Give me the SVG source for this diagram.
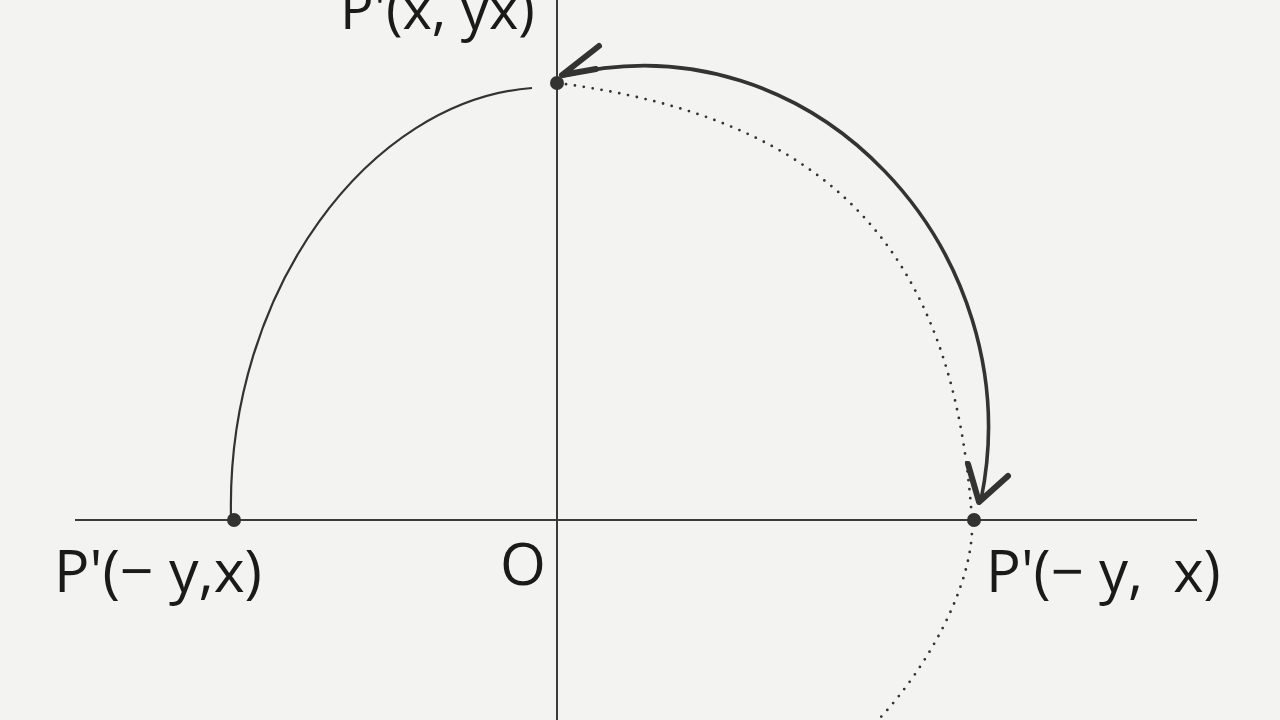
<svg xmlns="http://www.w3.org/2000/svg" width="1280" height="720" viewBox="0 0 1280 720">
<style>
.axis{stroke:#3a3a3a;stroke-width:2;fill:none}
.thin{stroke:#333;stroke-width:2.2;fill:none}
.thick{stroke:#333;stroke-width:3.6;fill:none;stroke-linecap:round}
.dot{stroke:#333;stroke-width:2.8;fill:none;stroke-dasharray:0 9;stroke-linecap:round}
.head{stroke:#333;stroke-width:6;fill:none;stroke-linecap:round;stroke-linejoin:round}
.pt{fill:#333}
.lbl{font-family:"Open Sans","DejaVu Sans",sans-serif;font-size:59px;fill:#1a1a1a}
</style>
<rect width="1280" height="720" fill="#f3f3f1"/>
<g id="axes">
<line class="axis" x1="75" y1="520" x2="1197" y2="520"/>
<line class="axis" x1="557" y1="0" x2="557" y2="720"/>
<text class="lbl" x="500" y="585">O</text>
</g>
<g id="connectors">
<path class="thin" d="M 231 517 C 226 290 370 100 532 88"/>
<path class="dot" d="M 557 83 C 829 118 954 248 972 520 C 975 585 925 670 880 718"/>
<path class="thick" d="M 563 76 C 813 13 1032 252 981 500"/>
<path class="head" d="M 599 46 L 562 75 L 596 69"/>
<path class="head" d="M 968 464 L 979 502 L 1008 476"/>
</g>
<g id="node-top">
<circle class="pt" cx="557" cy="83" r="7"/>
<text class="lbl" x="340" y="29" style="font-size:56px">P'(x, yx)</text>
</g>
<g id="node-left">
<circle class="pt" cx="234" cy="520" r="7"/>
<text class="lbl" x="54" y="592">P'(− y,x)</text>
</g>
<g id="node-right">
<circle class="pt" cx="974" cy="520" r="7"/>
<text class="lbl" x="986" y="592" style="font-size:58px">P'(− y,&#160; x)</text>
</g>
</svg>
